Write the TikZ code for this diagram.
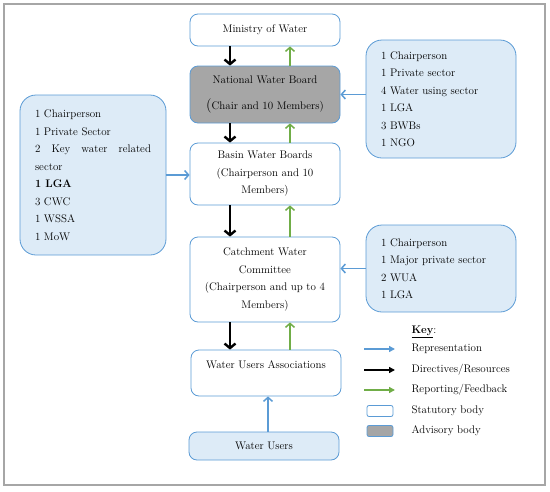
\documentclass[tikz,border=0pt]{standalone}
\usepackage{tikz}
\usetikzlibrary{arrows.meta}
\definecolor{boxblue}{RGB}{91,155,213}
\definecolor{lightblue}{RGB}{221,235,247}
\definecolor{boardgray}{RGB}{166,166,166}
\definecolor{feedgreen}{RGB}{112,173,71}

\begin{document}
\begin{tikzpicture}[x=1pt, y=-1pt, font=\fontsize{11}{17.5}\selectfont,
    body/.style={draw=boxblue, thick, rounded corners=8pt, minimum width=150pt, align=center, inner sep=4pt},
    info/.style={draw=boxblue, thick, fill=lightblue, rounded corners=16pt, inner xsep=15pt, inner ysep=6pt},
    repr/.style={boxblue, line width=1.5pt, -{Straight Barb[length=4pt, width=9pt]}},
    directive/.style={black, line width=2.4pt, -{Straight Barb[length=4.5pt, width=11pt]}},
    feedback/.style={feedgreen, line width=1.5pt, -{Straight Barb[length=4pt, width=9pt]}},
    keyarrow/.style={line width=1.5pt, -{Triangle[length=6pt, width=6pt]}}]
    \useasboundingbox (0, 0) rectangle (550, 491);
    \draw[gray!70, line width=1.5pt] (4, 4) rectangle (545, 485);

    \node[body, minimum height=32pt] (ministry) at (265, 30) {Ministry of Water};
    \node[body, fill=boardgray, minimum height=57pt] (nwb) at (265, 94.5) {National Water Board\\[8pt]{\Large(}Chair and 10 Members)};
    \node[body, minimum height=62pt] (bwb) at (265, 174) {Basin Water Boards\\(Chairperson and 10\\Members)};
    \node[body, minimum height=85pt] (cwc) at (265, 279.5) {Catchment Water\\Committee\\(Chairperson and up to 4\\Members)};
    \node[body, minimum height=46pt] (wua) at (266, 373) {Water Users Associations\\ ~};
    \node[body, fill=lightblue, minimum height=28pt] (wu) at (264, 446) {Water Users};

    \node[info, text width=120pt, align=left, minimum height=118pt] (nwbmembers) at (441, 99) {1 Chairperson\\1 Private sector\\4 Water using sector\\1 LGA\\3 BWBs\\1 NGO};
    \node[info, text width=116pt, align=justify, minimum height=160pt] (bwbmembers) at (93, 175) {1 Chairperson\\1 Private Sector\\2 Key water related\linebreak sector\\\textbf{1 LGA}\\3 CWC\\1 WSSA\\1 MoW};
    \node[info, text width=120pt, align=left, minimum height=87pt] (cwcmembers) at (441, 268.5) {1 Chairperson\\1 Major private sector\\2 WUA\\1 LGA};

    \foreach \upper/\lower in {ministry/nwb, nwb/bwb, bwb/cwc, cwc/wua} {
      \draw[directive] ([xshift=-35pt]\upper.south) -- ([xshift=-35pt]\upper.south |- \lower.north);
      \draw[feedback] ([xshift=25pt]\upper.south |- \lower.north) -- ([xshift=25pt]\upper.south);
    }
    \draw[repr] (nwbmembers.west |- nwb.east) -- (nwb.east);
    \draw[repr] (bwbmembers.east) -- (bwbmembers.east -| bwb.west);
    \draw[repr] (cwcmembers.west) -- (cwcmembers.west -| cwc.east);
    \draw[repr] ([xshift=4pt]wu.north) -- ([xshift=4pt]wu.north |- wua.south);

    \node[anchor=west] (keyhead) at (408, 332) {\textbf{\underline{Key}}:};
    \node[anchor=west] (keyrep) at (408, 349) {Representation};
    \node[anchor=west] (keydir) at (408, 370) {Directives/Resources};
    \node[anchor=west] (keyfeed) at (408, 390) {Reporting/Feedback};
    \node[anchor=west] (keystat) at (408, 411) {Statutory body};
    \node[anchor=west] (keyadv) at (408, 431) {Advisory body};
    \draw[keyarrow, boxblue] ([xshift=-44pt]keyrep.west) -- ([xshift=-13pt]keyrep.west);
    \draw[keyarrow, black] ([xshift=-44pt]keydir.west) -- ([xshift=-13pt]keydir.west);
    \draw[keyarrow, feedgreen] ([xshift=-44pt]keyfeed.west) -- ([xshift=-13pt]keyfeed.west);
    \node[draw=boxblue, thick, rounded corners=2pt, minimum width=26pt, minimum height=11pt] at ([xshift=-28pt]keystat.west) {};
    \node[draw=boxblue, thick, fill=boardgray, rounded corners=2pt, minimum width=26pt, minimum height=11pt] at ([xshift=-28pt]keyadv.west) {};
\end{tikzpicture}
\end{document}
